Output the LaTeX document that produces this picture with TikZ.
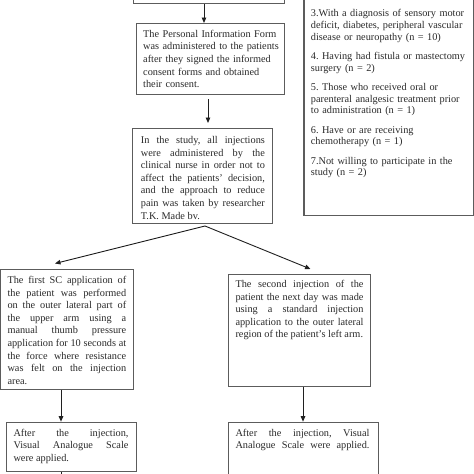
\documentclass[tikz,border=0pt]{standalone}
\usepackage{fontspec}
\setmainfont{Liberation Serif}
\usetikzlibrary{arrows.meta}
\frenchspacing
\definecolor{txtc}{HTML}{2A2A2A}
\definecolor{brd}{HTML}{5C5C5C}
\definecolor{arc}{HTML}{202020}
\begin{document}
\begin{tikzpicture}[x=1pt,y=-1pt,
  box/.style={draw=brd, line width=1.2pt, anchor=north west, inner sep=0pt},
  txt/.style={anchor=north west, inner sep=0pt, text=txtc, font=\fontsize{10.3}{12.6}\selectfont\frenchspacing, align=justify},
  lst/.style={anchor=north west, inner sep=0pt, text=txtc, font=\fontsize{10.3}{11.7}\selectfont\frenchspacing, align=left},
  arr/.style={draw=arc, line width=0.9pt, -{Triangle[length=5.5pt,width=4.5pt]}},
  ln/.style={draw=arc, line width=0.9pt}]
\useasboundingbox (0,0) rectangle (474,474);
\fill[white] (0,0) rectangle (474,474);
\begin{scope}
\clip (0,0) rectangle (474,474);
% boxes
\node[box, minimum width=151, minimum height=40] (top) at (133,-37) {};
\node[box, minimum width=148, minimum height=71] (pers) at (136,23) {};
\node[box, minimum width=140, minimum height=95] (study) at (132,128) {};
\node[box, minimum width=170, minimum height=245] (excl) at (303.3,-30) {};
\node[box, minimum width=133, minimum height=120] (first) at (0,269) {};
\node[box, minimum width=142, minimum height=112] (second) at (228,274) {};
\node[box, minimum width=130, minimum height=49] (vasl) at (5.7,421.7) {};
\node[box, minimum width=149.5, minimum height=70] (vasr) at (228,421.7) {};
% texts
\node[txt, align=left, text width=138] (pers-t) at (143,28.2) {\strut The Personal Information Form\\was administered to the patients\\after they signed the informed\\consent forms and obtained\\their consent.};
\node[txt, text width=124] (study-t) at (140.7,134.5) {\strut In the study, all injections\linebreak were administered by the\linebreak clinical nurse in order not to\linebreak affect the patients' decision,\linebreak and the approach to reduce\linebreak pain was taken by researcher\linebreak T.K. Made bv.};
\node[lst, text width=158] (excl-t) at (310.7,8.5) {\strut 3.With a diagnosis of sensory motor\\deficit, diabetes, peripheral vascular\\disease or neuropathy (n = 10)\\[7.6pt]4. Having had fistula or mastectomy\\surgery (n = 2)\\[7.6pt]5. Those who received oral or\\parenteral analgesic treatment prior\\to administration (n = 1)\\[7.6pt]6. Have or are receiving\\chemotherapy (n = 1)\\[7.6pt]7.Not willing to participate in the\\study (n = 2)};
\node[txt, text width=118.7] (first-t) at (7.3,274.5) {\strut The first SC application of\linebreak the patient was performed\linebreak on the outer lateral part of\linebreak the upper arm using a\linebreak manual thumb pressure\linebreak application for 10 seconds at\linebreak the force where resistance\linebreak was felt on the injection\linebreak area.};
\node[txt, text width=128] (second-t) at (235.3,278.5) {\strut The second injection of the\linebreak patient the next day was made\linebreak using a standard injection\linebreak application to the outer lateral\linebreak region of the patient's left arm.};
\node[txt, text width=115] (vasl-t) at (13.3,427.2) {\strut After the injection,\linebreak Visual Analogue Scale\linebreak were applied.};
\node[txt, text width=134] (vasr-t) at (235.3,427.2) {\strut After the injection, Visual\linebreak Analogue Scale were applied.\linebreak\mbox{}};
% connectors
\coordinate (split) at (205,226);
\coordinate (tipL) at (55,263.5);
\coordinate (tipR) at (310.5,269);
\coordinate (down) at (61,480);
\draw[arr] (top.south -| 204,0) -- (pers.north -| 204,0);
\draw[arr, shorten <=4pt, shorten >=5pt] (pers.south -| 208,0) -- (study.north -| 208,0);
\draw[arr] (split) -- (tipL);
\draw[arr] (split) -- (tipR);
\draw[arr] (first.south -| 61,0) -- (vasl.north -| 61,0);
\draw[arr] (second.south -| 303,0) -- (vasr.north -| 303,0);
\draw[ln] (vasl.south -| 61,0) -- (down);
\end{scope}
\end{tikzpicture}
\end{document}
